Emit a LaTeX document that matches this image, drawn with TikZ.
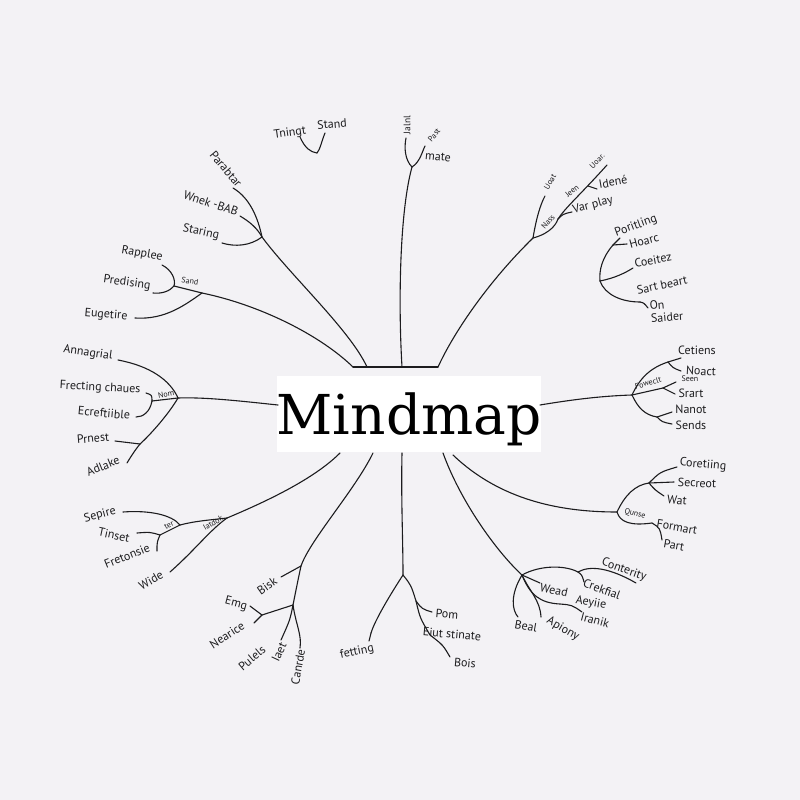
\documentclass[tikz,border=0pt]{standalone}
\usepackage{fontspec}
\newfontfamily\hand{PT Sans}
\newfontfamily\titlefont{DejaVu Serif}
\definecolor{ink}{RGB}{28,28,30}
\definecolor{paper}{RGB}{243,242,245}
\begin{document}
\begin{tikzpicture}[x=1pt,y=-1pt,
  br/.style={draw=ink,line width=1.1pt,line cap=round,line join=round},
  lb/.style={font=\hand\fontsize{12}{12}\selectfont,text=ink,inner sep=0pt},
  sm/.style={font=\hand\fontsize{8}{8}\selectfont,text=ink,inner sep=0pt}]
\fill[paper] (0,0) rectangle (800,800);
\useasboundingbox (0,0) rectangle (800,800);

% centre
\node[fill=white,minimum width=262pt,minimum height=76pt,text height=40pt,text depth=0pt,inner sep=0pt,
  font=\titlefont\fontsize{55}{55}\selectfont,text=black] (c) at (409,414) {Mindmap};

% top bar
\coordinate (hl) at (353,367); \coordinate (t1) at (367,367);
\coordinate (t2) at (402,367); \coordinate (hr) at (438,367);
\draw[br] (hl) -- (hr);

% ---- Staring group
\coordinate (fA) at (262,237);
\draw[br] (t1) .. controls (350,330) and (290,275) .. (fA);
\coordinate (pA) at (233,188);
\draw[br] (pA) .. controls (250,198) and (258,218) .. (fA);
\coordinate (pW) at (240,216);
\draw[br] (pW) .. controls (250,222) and (257,228) .. (fA);
\coordinate (pSt2) at (222,243);
\draw[br] (pSt2) .. controls (235,247) and (250,246) .. (fA);
\node[lb,rotate=-50] (nParab) at (226,169) {Parabtar};
\node[lb,rotate=-18] (nWnek) at (211,203) {Wnek -BAB};
\node[lb,rotate=-12] (nStaring) at (201,232) {Staring};

% ---- Sand group
\coordinate (fS2) at (202,293);
\draw[br] (hl) .. controls (320,335) and (260,305) .. (fS2);
\coordinate (fS) at (174,286);
\draw[br] (fS) -- (fS2);
\coordinate (pR) at (162,265);
\draw[br] (pR) .. controls (172,270) and (176,280) .. (fS);
\coordinate (pP) at (153,293);
\draw[br] (fS) .. controls (170,291) and (162,294) .. (pP);
\coordinate (pE) at (135,318);
\draw[br] (pE) .. controls (165,320) and (185,305) .. (fS2);
\node[lb,rotate=-10] (nRapp) at (142,254) {Rapplee};
\node[lb,rotate=-8] (nPred) at (127,283) {Predising};
\node[sm,rotate=-10] (nSand) at (190,281) {Sand};
\node[lb,rotate=-5] (nEug) at (106,315) {Eugetire};

% ---- Nom group
\coordinate (cw) at (278,405);
\coordinate (fN) at (178,398);
\draw[br] (cw) .. controls (240,401) and (205,397) .. (fN);
\coordinate (pAn) at (118,360);
\draw[br] (pAn) .. controls (150,366) and (170,380) .. (fN);
\coordinate (fN2) at (152,401);
\draw[br] (fN2) -- (fN);
\coordinate (pFc) at (146,393);
\draw[br] (pFc) .. controls (152,395) .. (fN2);
\coordinate (pEc) at (136,417);
\draw[br] (fN2) .. controls (150,412) and (143,417) .. (pEc);
\coordinate (fN3) at (140,444);
\draw[br] (fN) .. controls (168,415) and (150,435) .. (fN3);
\coordinate (pPr) at (115,441);
\draw[br] (pPr) -- (fN3);
\coordinate (pAd) at (127,463);
\draw[br] (fN3) .. controls (135,450) and (130,458) .. (pAd);
\node[lb,rotate=-8] (nAnna) at (88,353) {Annagrial};
\node[lb,rotate=-3] (nFrec) at (100,388) {Frecting chaues};
\node[sm,rotate=10] (nNom) at (166,394) {Nom};
\node[lb,rotate=-5] (nEcre) at (104,413) {Ecreftiible};
\node[lb,rotate=5] (nPrn) at (93,438) {Prnest};
\node[lb,rotate=22] (nAdl) at (103,466) {Adlake};

% ---- Iatdok group
\coordinate (b1) at (340,453); \coordinate (fI) at (227,518);
\draw[br] (b1) .. controls (315,478) and (270,500) .. (fI);
\coordinate (fI3) at (180,525);
\draw[br] (fI) .. controls (210,520) and (195,521) .. (fI3);
\coordinate (pSe) at (123,512);
\draw[br] (pSe) .. controls (150,510) and (172,515) .. (fI3);
\coordinate (fI4) at (160,535);
\draw[br] (fI3) -- (fI4);
\coordinate (pTi) at (137,533);
\draw[br] (pTi) .. controls (150,532) .. (fI4);
\coordinate (pFr) at (157,551);
\draw[br] (fI4) .. controls (157,542) .. (pFr);
\coordinate (pWi) at (170,572);
\draw[br] (fI) .. controls (210,530) and (195,550) .. (pWi);
\node[lb,rotate=15] (nSep) at (100,515) {Sepire};
\node[lb,rotate=-12] (nTin) at (114,535) {Tinset};
\node[lb,rotate=22] (nFret) at (127,556) {Fretonsie};
\node[sm,rotate=25] (nTer) at (169,525) {ter};
\node[sm,rotate=30] (nIat) at (213,523) {Iatdok};
\node[lb,rotate=30] (nWide) at (151,580) {Wide};

% ---- Bisk group
\coordinate (b2) at (373,453); \coordinate (fK1) at (301,566);
\draw[br] (b2) .. controls (355,490) and (310,540) .. (fK1);
\coordinate (pBi) at (281,577);
\draw[br] (pBi) -- (fK1);
\coordinate (fK2) at (293,605);
\draw[br] (fK1) .. controls (298,580) .. (fK2);
\coordinate (fK3) at (262,615);
\draw[br] (fK3) -- (fK2);
\coordinate (pEm) at (250,606);
\draw[br] (pEm) -- (fK3);
\coordinate (pNe) at (254,623);
\draw[br] (pNe) -- (fK3);
\coordinate (pPu) at (281,640);
\draw[br] (fK2) .. controls (290,620) .. (pPu);
\coordinate (pCa) at (300,648);
\draw[br] (fK2) .. controls (296,625) and (302,635) .. (pCa);
\node[lb,rotate=35] (nBisk) at (267,586) {Bisk};
\node[lb,rotate=-15] (nEmg) at (236,604) {Emg};
\node[lb,rotate=33] (nNear) at (227,635) {Nearice};
\node[lb,rotate=40] (nPul) at (252,658) {Pulels};
\node[lb,rotate=65] (nIaet) at (279,652) {Iaet};
\node[lb,rotate=80] (nCan) at (298,667) {Canrde};

% ---- bottom group
\coordinate (b3) at (402,453); \coordinate (fP) at (403,575);
\draw[br] (b3) .. controls (401,500) and (403,540) .. (fP);
\coordinate (pFe) at (371,633);
\draw[br] (fP) .. controls (390,595) and (375,620) .. (pFe);
\coordinate (pFe2) at (369,641);
\draw[br] (pFe) -- (pFe2);
\coordinate (mP1) at (416,601); \coordinate (mP2) at (430,635);
\coordinate (pBo) at (450,657);
\draw[br] (fP) .. controls (411,585) .. (mP1) .. controls (420,618) .. (mP2) .. controls (443,645) .. (pBo);
\coordinate (pPo) at (432,612);
\draw[br] (mP1) .. controls (422,609) .. (pPo);
\node[lb,rotate=12] (nFet) at (357,652) {fetting};
\node[lb,rotate=-5] (nPom) at (447,614) {Pom};
\node[lb,rotate=-5] (nEiut) at (452,634) {Eiut stinate};
\node[lb,rotate=-5] (nBois) at (465,663) {Bois};

% ---- Conterity group
\coordinate (b4) at (443,453); \coordinate (fR) at (522,575);
\draw[br] (b4) .. controls (460,500) and (495,550) .. (fR);
\coordinate (fR2) at (578,572);
\draw[br] (fR) .. controls (540,565) and (565,565) .. (fR2);
\coordinate (pCr) at (584,582);
\draw[br] (fR2) .. controls (582,575) .. (pCr);
\coordinate (pCo) at (636,583);
\draw[br] (fR2) .. controls (590,565) and (610,568) .. (pCo);
\coordinate (pWe) at (540,583);
\draw[br] (fR) -- (pWe);
\coordinate (mR) at (560,604); \coordinate (pAe) at (582,612);
\draw[br] (fR) .. controls (530,595) and (540,603) .. (mR) .. controls (572,605) .. (pAe);
\coordinate (pAp) at (541,617);
\draw[br] (fR) .. controls (530,592) and (540,600) .. (pAp);
\coordinate (pBe) at (518,617);
\draw[br] (fR) .. controls (510,595) and (512,610) .. (pBe);
\node[lb,rotate=-20] (nCont) at (624,570) {Conterity};
\node[lb,rotate=-20] (nCrek) at (602,589) {Crekfial};
\node[lb,rotate=-12] (nWead) at (554,590) {Wead};
\node[lb,rotate=-10] (nAey) at (591,603) {Aeyiie};
\node[lb,rotate=-15] (nIran) at (595,620) {Iranik};
\node[lb,rotate=-30] (nApi) at (563,629) {Apiony};
\node[lb,rotate=-10] (nBeal) at (526,626) {Beal};

% ---- Qunse group
\coordinate (b5) at (453,455); \coordinate (fQ) at (617,512);
\draw[br] (b5) .. controls (500,500) and (560,512) .. (fQ);
\coordinate (fQ2) at (649,483);
\draw[br] (fQ) .. controls (625,495) and (635,485) .. (fQ2);
\coordinate (pCt) at (677,467);
\draw[br] (fQ2) .. controls (660,472) .. (pCt);
\coordinate (pSc) at (674,482);
\draw[br] (fQ2) -- (pSc);
\coordinate (pWa) at (664,496);
\draw[br] (fQ2) .. controls (655,490) .. (pWa);
\coordinate (fQ3) at (652,523);
\draw[br] (fQ) .. controls (620,522) and (630,526) .. (fQ3);
\coordinate (pPa) at (662,540);
\draw[br] (fQ3) .. controls (660,528) .. (pPa);
\node[lb,rotate=-5] (nCore) at (703,465) {Coretiing};
\node[lb,rotate=-3] (nSecr) at (697,483) {Secreot};
\node[lb,rotate=-5] (nWat) at (677,500) {Wat};
\node[sm,rotate=-15] (nQun) at (635,514) {Qunse};
\node[lb,rotate=-10] (nForm) at (677,527) {Formart};
\node[lb,rotate=-10] (nPart) at (674,545) {Part};

% ---- Foweclt group
\coordinate (ce) at (540,405); \coordinate (fF) at (632,395);
\draw[br] (ce) .. controls (570,400) and (600,396) .. (fF);
\coordinate (fF2) at (668,362);
\draw[br] (fF) .. controls (640,378) and (650,368) .. (fF2);
\coordinate (pCe) at (681,358);
\draw[br] (fF2) -- (pCe);
\coordinate (pNo) at (681,371);
\draw[br] (fF2) .. controls (673,368) .. (pNo);
\coordinate (fF3) at (663,388);
\draw[br] (fF) -- (fF3);
\coordinate (pSee) at (676,382);
\draw[br] (fF3) -- (pSee);
\coordinate (pSr) at (675,394);
\draw[br] (fF3) -- (pSr);
\coordinate (fF4) at (657,417);
\draw[br] (fF) .. controls (638,408) and (645,415) .. (fF4);
\coordinate (pNa) at (672,412);
\draw[br] (fF4) -- (pNa);
\coordinate (pSd) at (672,424);
\draw[br] (fF4) .. controls (662,422) .. (pSd);
\node[sm,rotate=15] (nFow) at (648,383) {Foweclt};
\node[lb] (nCet) at (697,350) {Cetiens};
\node[lb,rotate=-3] (nNoa) at (701,371) {Noact};
\node[sm] (nSeen) at (690,379) {Seen};
\node[lb] (nSrart) at (691,393) {Srart};
\node[lb] (nNanot) at (691,409) {Nanot};
\node[lb] (nSends) at (691,425) {Sends};

% ---- top group
\coordinate (fB) at (412,167);
\draw[br] (t2) .. controls (398,300) and (400,210) .. (fB);
\coordinate (pJa) at (406,138);
\draw[br] (fB) .. controls (405,160) and (404,148) .. (pJa);
\coordinate (pPs) at (425,146);
\draw[br] (fB) .. controls (420,162) and (422,152) .. (pPs);
\node[sm,font=\hand\fontsize{9.5}{9.5}\selectfont,rotate=90] (nJal) at (407,125) {Jalnl};
\node[sm,rotate=50] (nPast) at (434,135) {Past};
\node[lb,rotate=-5] (nMate) at (438,157) {mate};

% ---- Nass group
\coordinate (fC) at (533,238);
\draw[br] (hr) .. controls (455,330) and (490,280) .. (fC);
\coordinate (pUo) at (545,196);
\draw[br] (fC) .. controls (536,220) and (540,205) .. (pUo);
\coordinate (fC2) at (558,219);
\draw[br] (fC) .. controls (545,235) and (555,228) .. (fC2);
\coordinate (pUa) at (607,165);
\draw[br] (fC2) .. controls (565,208) and (580,195) .. (pUa);
\coordinate (pVa) at (572,212);
\draw[br] (fC2) .. controls (563,214) .. (pVa);
\coordinate (mC) at (588,186); \coordinate (pId) at (597,189);
\draw[br] (mC) -- (pId);
\node[sm,rotate=60] (nUoat) at (550,182) {Uoat};
\node[sm,rotate=50] (nNass) at (548,222) {Nass};
\node[sm,rotate=40] (nJeen) at (572,191) {Jeen};
\node[sm,rotate=45] (nUoar) at (597,161) {Uoar.};
\node[lb,rotate=10] (nIde) at (613,182) {Idené};
\node[lb,rotate=15] (nVar) at (593,205) {Var play};

% ---- Poritling group
\coordinate (fT) at (613,245); \coordinate (fT2) at (600,281);
\draw[br] (fT) .. controls (602,258) and (599,270) .. (fT2);
\coordinate (pPo2) at (620,238);
\draw[br] (fT) -- (pPo2);
\coordinate (pHo) at (627,244);
\draw[br] (fT) -- (pHo);
\coordinate (pCo2) at (633,268);
\draw[br] (fT2) .. controls (615,278) and (625,273) .. (pCo2);
\coordinate (pSa) at (640,302);
\draw[br] (fT2) .. controls (605,295) and (622,302) .. (pSa);
\coordinate (pOn) at (648,308);
\draw[br] (pSa) .. controls (644,303) .. (pOn);
\node[lb,rotate=20] (nPori) at (636,226) {Poritling};
\node[lb,rotate=15] (nHoarc) at (644,241) {Hoarc};
\node[lb,rotate=10] (nCoei) at (653,260) {Coeitez};
\node[lb,rotate=12] (nSart) at (662,285) {Sart beart};
\node[lb,rotate=5] (nOn) at (657,305) {On};
\node[lb,rotate=5] (nSaid) at (667,317) {Saider};

% ---- Tningt Stand
\coordinate (pTn) at (300,137); \coordinate (pSt) at (325,133); \coordinate (fTn) at (317,153);
\draw[br] (pTn) .. controls (305,148) and (310,152) .. (fTn);
\draw[br] (fTn) .. controls (320,150) and (322,140) .. (pSt);
\node[lb,rotate=8] (nTn) at (290,133) {Tningt};
\node[lb,rotate=5] (nStand) at (332,124) {Stand};
\end{tikzpicture}
\end{document}
